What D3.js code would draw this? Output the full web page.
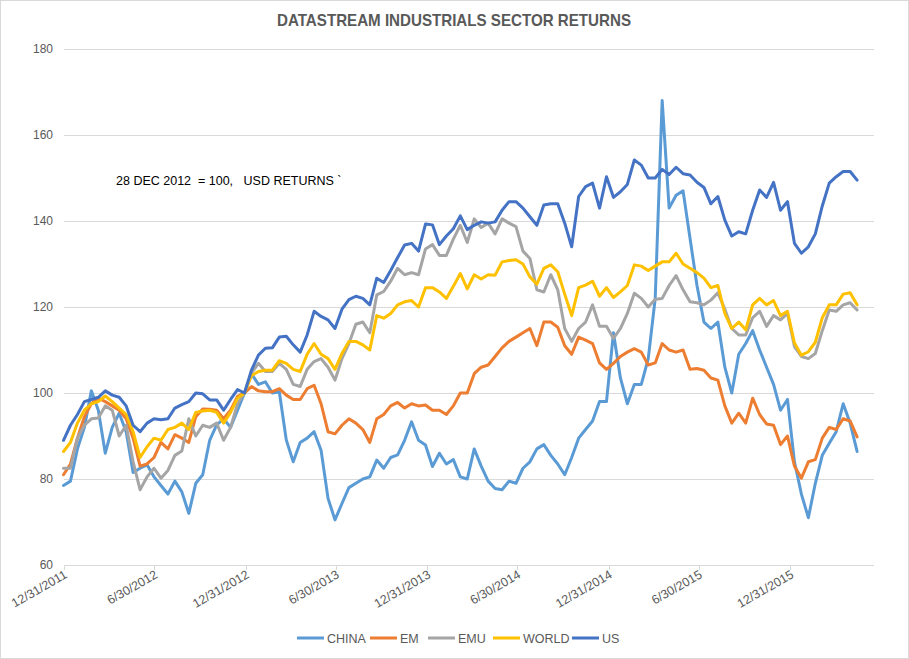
<!DOCTYPE html>
<html>
<head>
<meta charset="utf-8">
<script src="https://d3js.org/d3.v7.min.js"></script>
<style>
  body { margin: 0; background: #fff; }
  text { font-family: "Liberation Sans Narrow", "Liberation Sans", Arial, sans-serif; }
</style>
</head>
<body>
<script>
// series are sampled every two weeks, first point 30 Dec 2011
const startDate = Date.UTC(2011, 11, 30);
const stepDays = 14;

const china = [78.5,79.5,87,92,100.5,96,86,92,95.3,91,81.5,82.5,83.3,80.5,78.5,76.5,79.5,77,72,79,81,89,92.6,94,92,96,100,
  104.5,102,102.6,100,100.3,89.1,84,88.5,89.5,91,86.7,75.5,70.5,74.3,78,79,80,80.5,84.4,82.5,85,85.6,89,93.3,89,87.9,82.9,86,83.5,
  84.5,80.5,80,87,83,79.5,77.8,77.5,79.5,79,82.5,84,87,88,85.5,83.5,81,85,89.5,91.5,93.5,98,98,114,103.5,97.5,102,102,108,122,
  168,143,146,147,136,125,116.5,115,116.5,106,100,109,111.5,114.5,110,106,102,96,98.5,84,76.5,71,79,85.5,88.3,91,97.5,93,86.4];

const em = [81,83.5,89.5,94.5,97.5,98.8,98,97,96,94,89.5,83,83.5,85,88.5,87,90.3,89.5,88.5,94.5,96.3,96.2,96,94,96,99.2,100,
  101.5,100.5,100.3,100.3,101,99.5,98.5,98.5,101,101.8,97.5,91,90.5,92.5,94,93,91.5,88.5,94,95,97,97.8,96.5,97.5,97,97.2,96,96,95,
  97,100,100,104.5,106,106.5,108.5,110.5,112,113,114,115,111,116.5,116.5,115.3,111,109,113,112.3,111.5,107,105.5,106.9,108.5,109.5,110.3,109.5,106.5,107,
  111.5,110,109.5,110,105.5,105.7,105.3,103.5,103,97,93,95.3,93,98.8,95,92.8,92.5,88,90,83,80.2,84,84.5,89.5,92,91.5,94,93.5,89.8];

const emu = [82.5,82.5,89.5,92.5,94,94.2,97,96,90,92.5,84,77.5,80.5,82.5,80.2,82,85.5,86.5,94,90,92.5,92,93,89,92,97.5,100,
  104.6,106.9,105,105,106.9,105.5,102,101.5,105.5,107.3,108,106,103,108,111.5,116,116.5,114,122.8,123.6,126,129,127.5,128,127.5,133.5,134.5,132,132,
  135.8,139,135,140.5,138.5,139.5,137,140.5,139.5,138.7,133,131.3,124,123.5,127.5,124,115,112,115,116.5,120.5,115.5,115.5,112.7,115,118.5,123.2,122,120,121.8,
  122,125,127.3,124,121.2,121,120.5,121.6,123.3,119.5,115,113.5,113.5,117.5,119,115.5,118,117,118.5,110.8,108.5,108,109.2,114.5,119.3,119,120.5,121,119.3];

const world = [86.4,88.5,93,96,97.5,98,99.3,98,96.5,95,91,85,87.5,89.5,89,91.5,92,93,91.5,95.5,95.8,96,95.5,93,95.5,98.8,100,
  104,105,105.3,105.3,107.5,106.9,105.5,105,109,111.5,109,108,105.5,109.2,112,112,111.2,110,118,117.4,118.5,120.5,121.2,121.5,120,124.5,124.5,123.5,122,
  124.8,127.8,124.2,127.5,126.5,127.5,127.4,130.5,130.8,131,130,127,125.3,129,129.8,128.2,123,118,124.5,125.1,126,122.5,124.5,122.2,123.5,125,129.8,129.5,128.5,129.5,
  130.5,130.5,132.5,130,129,128,126.7,124.5,125,118.5,115,116.5,114.7,120.5,122,120.5,121.5,118,119,111.6,108.8,109.6,111.8,117.5,120.5,120.5,123,123.3,120.5];

const us = [89,92.5,95,98,98.5,99,100.5,99.5,99,97,92.5,91,93,94,93.8,94,96.5,97.3,98,100,99.8,98.4,98.4,96,98.5,100.8,100,
  105.3,108.8,110.4,110.5,113,113.2,111.2,109.5,113.5,119,117.8,117,115,119.5,121.7,122.5,122,120.5,126.7,125.7,128.5,131.5,134.4,134.8,133,139.3,139.1,134.5,136.5,
  138.2,141.2,138,139,139.8,139.5,139.8,142.5,144.5,144.5,143,141,139,143.7,144,144,139.5,134,145.7,148,148.8,143,150.3,145.5,146.8,148.5,154.2,153,150,150,
  152,150.8,152.5,151,150.7,149,147.8,144,145.7,140.2,136.5,137.5,137,142.5,147.2,145.5,149,142.5,144.5,134.8,132.5,134,137,143.5,148.8,150.3,151.5,151.5,149.5];

const seriesNames = ["CHINA", "EM", "EMU", "WORLD", "US"];
const seriesValues = [china, em, emu, world, us];
const colors = ["#5B9BD5", "#ED7D31", "#A5A5A5", "#FFC000", "#4472C4"];

const yTicks = [60, 80, 100, 120, 140, 160, 180];
const xTickLabels = ["12/31/2011", "6/30/2012", "12/31/2012", "6/30/2013", "12/31/2013",
                     "6/30/2014", "12/31/2014", "6/30/2015", "12/31/2015"];

const titleText = "DATASTREAM INDUSTRIALS SECTOR RETURNS";
const noteText = "28 DEC 2012  = 100,   USD RETURNS `";

// chart constants
const W = 909, H = 659;
const plot = {left: 64, right: 874, top: 49, bottom: 565};

const svg = d3.select("body").append("svg")
  .attr("width", W)
  .attr("height", H);

svg.append("rect")
  .attr("x", 0.5).attr("y", 0.5)
  .attr("width", W - 1).attr("height", H - 1)
  .attr("fill", "#fff")
  .attr("stroke", "#d9d9d9");

const parseTick = d3.utcParse("%m/%d/%Y");
const x = d3.scaleUtc()
  .domain([Date.UTC(2011, 11, 31), Date.UTC(2016, 5, 16)])
  .range([plot.left, plot.right]);
const y = d3.scaleLinear().domain([60, 180]).range([plot.bottom, plot.top]);

const dateAt = i => new Date(startDate + i * stepDays * 864e5);

// grid lines
svg.append("g")
  .selectAll("line")
  .data(yTicks)
  .join("line")
  .attr("x1", plot.left).attr("x2", plot.right)
  .attr("y1", d => y(d) + 0.5).attr("y2", d => y(d) + 0.5)
  .attr("stroke", "#d9d9d9")
  .attr("stroke-width", 1);

// y labels
svg.append("g")
  .selectAll("text")
  .data(yTicks)
  .join("text")
  .attr("x", 53)
  .attr("y", d => y(d) + 4)
  .attr("text-anchor", "end")
  .attr("font-size", 12)
  .attr("fill", "#595959")
  .text(d => d);

// x ticks and labels
const xDates = xTickLabels.map(parseTick);
svg.append("g")
  .selectAll("line")
  .data(xDates)
  .join("line")
  .attr("x1", d => Math.round(x(d)) + 0.5).attr("x2", d => Math.round(x(d)) + 0.5)
  .attr("y1", plot.bottom).attr("y2", plot.bottom + 5)
  .attr("stroke", "#d9d9d9");

svg.append("g")
  .selectAll("text")
  .data(xTickLabels)
  .join("text")
  .attr("transform", d => "translate(" + (x(parseTick(d)) + 4) + "," + (plot.bottom + 12) + ") rotate(-30)")
  .attr("text-anchor", "end")
  .attr("font-size", 12.5)
  .attr("fill", "#595959")
  .text(d => d);

// lines
const line = d3.line()
  .x((d, i) => x(dateAt(i)))
  .y(d => y(d));

svg.append("g")
  .selectAll("path")
  .data(seriesValues)
  .join("path")
  .attr("d", d => line(d))
  .attr("fill", "none")
  .attr("stroke", (d, i) => colors[i])
  .attr("stroke-width", 3)
  .attr("stroke-linejoin", "round")
  .attr("stroke-linecap", "round");

// title
svg.append("text")
  .attr("x", 454)
  .attr("y", 26)
  .attr("text-anchor", "middle")
  .attr("font-size", 17)
  .attr("font-weight", "bold")
  .attr("fill", "#595959")
  .attr("textLength", 354)
  .attr("lengthAdjust", "spacingAndGlyphs")
  .text(titleText);

// note
svg.append("text")
  .attr("x", 116)
  .attr("y", 185)
  .attr("font-size", 12.5)
  .attr("fill", "#000")
  .attr("xml:space", "preserve")
  .style("white-space", "pre")
  .text(noteText);

// legend
const legendX = [297, 370, 428, 493, 572];
const legend = svg.append("g")
  .selectAll("g")
  .data(seriesNames)
  .join("g")
  .attr("transform", (d, i) => "translate(" + legendX[i] + ",638)");
legend.append("line")
  .attr("x1", 0).attr("x2", 27)
  .attr("stroke", (d, i) => colors[i])
  .attr("stroke-width", 3);
legend.append("text")
  .attr("x", 30)
  .attr("y", 4.5)
  .attr("font-size", 12.5)
  .attr("fill", "#595959")
  .text(d => d);
</script>
</body>
</html>
